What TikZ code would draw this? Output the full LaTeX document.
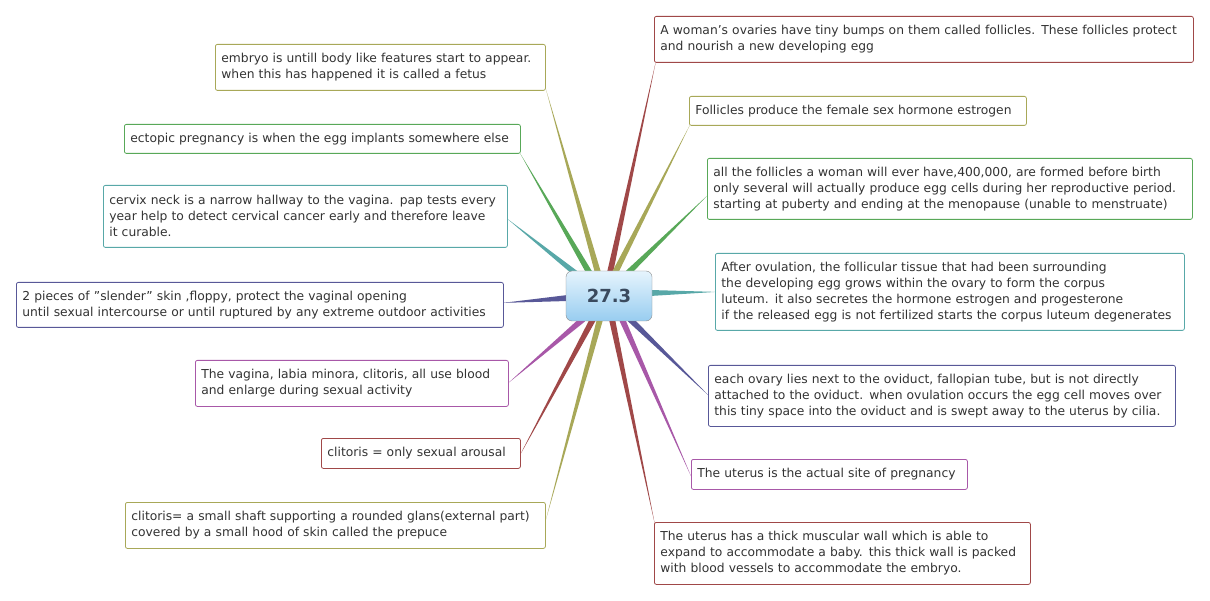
\documentclass[tikz,border=0pt]{standalone}
\usepackage{fontspec}
\setmainfont{DejaVu Sans}
\usetikzlibrary{calc}
\pgfdeclarelayer{bg}
\pgfsetlayers{bg,main}
\definecolor{cred}{HTML}{A04848}
\definecolor{colive}{HTML}{A8A858}
\definecolor{cgreen}{HTML}{58A858}
\definecolor{cteal}{HTML}{58A8A8}
\definecolor{cnavy}{HTML}{585898}
\definecolor{cpurple}{HTML}{A858A8}
\definecolor{hubtop}{HTML}{E6F4FD}
\definecolor{hubbot}{HTML}{98CDF0}
\definecolor{hubtxt}{HTML}{3A4A5E}
\tikzset{
  box/.style={draw=#1, rounded corners=2pt, fill=white, line width=0.8pt, anchor=north west,
    align=left, inner xsep=6pt, inner ysep=3pt, text=black!80,
    font=\fontsize{12.3}{16}\selectfont},
  hub/.style={draw=black!45, rounded corners=6pt, top color=hubtop, bottom color=hubbot,
    minimum width=86pt, minimum height=50pt, font=\bfseries\fontsize{18}{20}\selectfont, text=hubtxt},
}
\newcommand{\taper}[3]{\fill[#1] ($(#2)!3pt!90:(#3)$) -- ($(#2)!3pt!-90:(#3)$) -- (#3) -- cycle;}
\newcommand{\sq}{\symbol{39}}
\newcommand{\dq}{\symbol{34}}
\begin{document}
\begin{tikzpicture}[x=1pt,y=-1pt]
\useasboundingbox (0,0) rectangle (1210,601);
\node[hub] (c) at (609,296) {27.3};
\node[box=cred, text width=527pt, minimum height=46pt] (r1) at (654,16) {A woman\sq s ovaries have tiny bumps on them called follicles. These follicles protect\\and nourish a new developing egg};
\node[box=colive, text width=325pt, minimum height=29pt] (r2) at (689,96) {Follicles produce the female sex hormone estrogen};
\node[box=cgreen, text width=473pt, minimum height=61pt] (r3) at (707,158) {all the follicles a woman will ever have,400,000, are formed before birth\\only several will actually produce egg cells during her reproductive period.\\starting at puberty and ending at the menopause (unable to menstruate)};
\node[box=cteal, text width=457pt, minimum height=77pt] (r4) at (715,253) {After ovulation, the follicular tissue that had been surrounding\\the developing egg grows within the ovary to form the corpus\\luteum. it also secretes the hormone estrogen and progesterone\\if the released egg is not fertilized starts the corpus luteum degenerates};
\node[box=cnavy, text width=455pt, minimum height=61pt] (r5) at (708,365) {each ovary lies next to the oviduct, fallopian tube, but is not directly\\attached to the oviduct. when ovulation occurs the egg cell moves over\\this tiny space into the oviduct and is swept away to the uterus by cilia.};
\node[box=cpurple, text width=264pt, minimum height=30pt] (r6) at (691,459) {The uterus is the actual site of pregnancy};
\node[box=cred, text width=364pt, minimum height=62pt] (r7) at (654,522) {The uterus has a thick muscular wall which is able to\\expand to accommodate a baby. this thick wall is packed\\with blood vessels to accommodate the embryo.};
\node[box=colive, text width=318pt, minimum height=46pt] (l1) at (215,44) {embryo is untill body like features start to appear.\\when this has happened it is called a fetus};
\node[box=cgreen, text width=384pt, minimum height=29pt] (l2) at (124,124) {ectopic pregnancy is when the egg implants somewhere else};
\node[box=cteal, text width=392pt, minimum height=62pt] (l3) at (103,185) {cervix neck is a narrow hallway to the vagina. pap tests every\\year help to detect cervical cancer early and therefore leave\\it curable.};
\node[box=cnavy, text width=475pt, minimum height=45pt] (l4) at (16,282) {2 pieces of \dq slender\dq{} skin ,floppy, protect the vaginal opening\\until sexual intercourse or until ruptured by any extreme outdoor activities};
\node[box=cpurple, text width=301pt, minimum height=46pt] (l5) at (195,360) {The vagina, labia minora, clitoris, all use blood\\and enlarge during sexual activity};
\node[box=cred, text width=187pt, minimum height=30pt] (l6) at (321,438) {clitoris = only sexual arousal};
\node[box=colive, text width=408pt, minimum height=46pt] (l7) at (125,502) {clitoris= a small shaft supporting a rounded glans(external part)\\covered by a small hood of skin called the prepuce};
\begin{pgfonlayer}{bg}
\fill[white] (0,0) rectangle (1210,601);
\taper{cred}{$(c.north)+(1,2)$}{$(r1.south west)+(2,-2)$}
\taper{colive}{$(c.north)+(6,2)$}{$(r2.south west)+(1,-1)$}
\taper{cgreen}{$(c.north)+(16,5)$}{$(r3.west)+(1,6)$}
\taper{cteal}{$(c.east)+(-2,-3)$}{$(r4.west)+(1,0)$}
\taper{cnavy}{$(c.south)+(21,-2)$}{$(r5.west)+(1,0)$}
\taper{cpurple}{$(c.south)+(13,-2)$}{$(r6.west)+(1,4)$}
\taper{cred}{$(c.south)+(3,-2)$}{$(r7.north west)+(1,3)$}
\taper{colive}{$(c.north)+(-11,2)$}{$(l1.south east)+(0,-2)$}
\taper{cgreen}{$(c.north)+(-19,3)$}{$(l2.south east)+(-1,-1)$}
\taper{cteal}{$(c.north)+(-29,6)$}{$(l3.east)+(-1,2)$}
\taper{cnavy}{$(c.west)+(2,2)$}{$(l4.east)+(-1,-2)$}
\taper{cpurple}{$(c.south)+(-26,-2)$}{$(l5.east)+(-1,0)$}
\taper{cred}{$(c.south)+(-16,-2)$}{$(l6.east)+(-1,2)$}
\taper{colive}{$(c.south)+(-9,-2)$}{$(l7.north east)+(0,18)$}
\end{pgfonlayer}
\end{tikzpicture}
\end{document}
